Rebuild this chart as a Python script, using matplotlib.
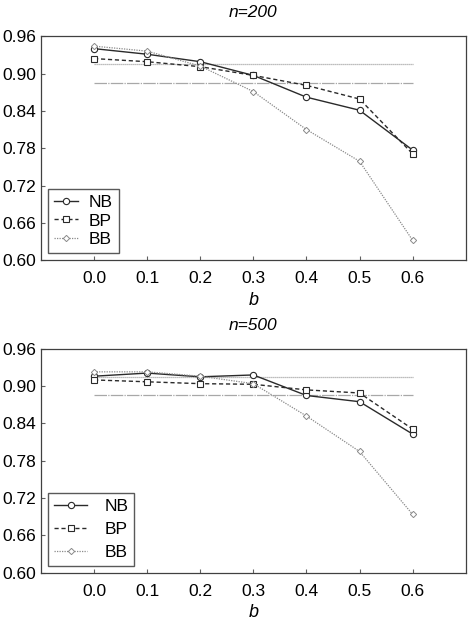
import matplotlib.pyplot as plt
import numpy as np

plt.rcParams['font.family'] = ['Liberation Sans', 'DejaVu Sans']

b = [0.0, 0.1, 0.2, 0.3, 0.4, 0.5, 0.6]

# n=200
nb_200 = [0.940, 0.931, 0.919, 0.897, 0.862, 0.841, 0.777]
bp_200 = [0.924, 0.919, 0.911, 0.897, 0.881, 0.859, 0.771]
bb_200 = [0.944, 0.936, 0.912, 0.871, 0.810, 0.759, 0.632]

# n=500
nb_500 = [0.916, 0.921, 0.915, 0.918, 0.885, 0.875, 0.823]
bp_500 = [0.910, 0.907, 0.904, 0.903, 0.894, 0.889, 0.831]
bb_500 = [0.923, 0.923, 0.916, 0.904, 0.852, 0.795, 0.694]

upper_bound = 0.915
lower_bound = 0.885

yticks = [0.60, 0.66, 0.72, 0.78, 0.84, 0.90, 0.96]

fig = plt.figure(figsize=(4.74, 6.24), dpi=100)
ax1 = fig.add_axes([0.0865, 0.583, 0.896, 0.359])
ax2 = fig.add_axes([0.0865, 0.082, 0.896, 0.359])

# per-panel legend geometry (the two legends differ slightly in the original)
panels = [(ax1, 'n=200', nb_200, bp_200, bb_200, 1.4, 0.2, 0.6),
          (ax2, 'n=500', nb_500, bp_500, bb_500, 1.9, 0.45, 1.0)]

for ax, title, nb, bp, bb, hlen, lspace, htpad in panels:
    # reference lines
    ax.plot([b[0], b[-1]], [upper_bound, upper_bound], color='#a8a8a8',
            lw=0.9, ls=(0, (1, 0.6)))
    ax.plot([b[0], b[-1]], [lower_bound, lower_bound], color='#a8a8a8',
            lw=0.9, ls=(0, (10, 1, 1, 1)))

    ax.plot(b, nb, color='#2a2a2a', lw=1.0, ls='-', marker='o', ms=4.5,
            mfc='white', mec='#2a2a2a', mew=0.8, label='NB')
    ax.plot(b, bp, color='#2a2a2a', lw=1.0, ls=(0, (3, 2)), marker='s', ms=4.5,
            mfc='white', mec='#2a2a2a', mew=0.8, label='BP')
    ax.plot(b, bb, color='#8a8a8a', lw=0.9, ls=(0, (1, 1)), marker='D', ms=3.2,
            mfc='white', mec='#8a8a8a', mew=0.7, label='BB')

    ax.set_xlim(-0.1, 0.7)
    ax.set_ylim(0.60, 0.96)
    ax.set_xticks(b)
    ax.set_xticklabels([f'{v:.1f}' for v in b])
    ax.set_yticks(yticks)
    ax.set_yticklabels([f'{v:.2f}' for v in yticks])
    ax.tick_params(direction='in', length=3, labelsize=12.5, width=0.8,
                   color='#606060')
    ax.tick_params(axis='x', pad=8)
    for s in ax.spines.values():
        s.set_color('#404040')
        s.set_linewidth(0.9)

    ax.set_title(title, fontsize=12.5, style='italic', pad=13.5)
    ax.set_xlabel('b', fontsize=13, style='italic', labelpad=4)

    leg = ax.legend(loc='lower left', fontsize=12.5, frameon=True,
                    fancybox=False, handlelength=hlen, borderpad=0.35,
                    labelspacing=lspace, handletextpad=htpad,
                    borderaxespad=0.4)
    leg.get_frame().set_edgecolor('#303030')
    leg.get_frame().set_linewidth(1.0)

fig.savefig('out.png', dpi=100)
